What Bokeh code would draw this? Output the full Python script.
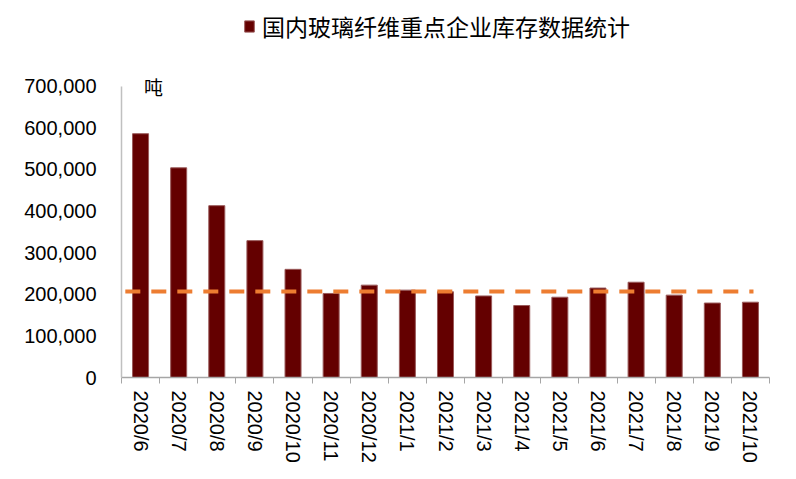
import math
from bokeh.plotting import figure
from bokeh.models import (Range1d, FixedTicker, NumeralTickFormatter, Legend, LegendItem,
                          Label, ColumnDataSource)
from bokeh.embed import file_html
from bokeh.resources import INLINE

# ---- data ----
categories = ["2020/6", "2020/7", "2020/8", "2020/9", "2020/10", "2020/11", "2020/12",
              "2021/1", "2021/2", "2021/3", "2021/4", "2021/5", "2021/6", "2021/7",
              "2021/8", "2021/9", "2021/10"]
inventory = [586000, 504000, 413000, 329000, 260000, 202000, 222000,
             210000, 206000, 196000, 173000, 193000, 215000, 229000,
             198000, 179000, 181000]
reference_level = 207000
y_ticks = [0, 100000, 200000, 300000, 400000, 500000, 600000, 700000]
series_name = "国内玻璃纤维重点企业库存数据统计"
unit_text = "吨"

# ---- styles / layout ----
BAR_COLOR = "#640000"
LINE_COLOR = "#ED7D31"
NUM_FONT = "Liberation Sans"
CJK_FONT = "Noto Sans CJK SC"
W, H = 780, 465
FRAME_LEFT, FRAME_RIGHT = 121, 769
FRAME_TOP = 6          # frame reaches near the top so legend/unit text are not clipped
AXIS_TOP_PX, AXIS_ZERO_PX = 86, 378   # pixel rows of the top tick and of zero
y_max = y_ticks[-1]
y_end = y_max * (AXIS_ZERO_PX - FRAME_TOP) / (AXIS_ZERO_PX - AXIS_TOP_PX)

n = len(categories)
xs = list(range(1, n + 1))
src = ColumnDataSource(dict(x=xs, y=inventory, cat=categories))

p = figure(width=W, height=H, output_backend="svg", toolbar_location=None,
           x_range=Range1d(0.5, n + 0.5), y_range=Range1d(0, y_end),
           min_border_left=FRAME_LEFT, min_border_right=W - FRAME_RIGHT,
           min_border_top=FRAME_TOP, min_border_bottom=H - AXIS_ZERO_PX)
p.outline_line_color = None
p.grid.visible = False
p.background_fill_color = "white"
p.border_fill_color = "white"

bars = p.vbar(x="x", top="y", width=0.42, source=src, fill_color=BAR_COLOR,
              line_color="#9a5a5a", line_width=1)

# reference dashed line (spans slightly inside the first and last category)
p.line(x=[xs[0] - 0.4, xs[-1] + 0.08], y=[reference_level, reference_level],
       line_color=LINE_COLOR, line_width=4, line_dash="15 11")

# x axis
xa = p.xaxis[0]
xa.ticker = FixedTicker(ticks=xs, minor_ticks=[x - 0.5 for x in xs] + [xs[-1] + 0.5])
xa.major_label_overrides = {x: c for x, c in zip(xs, categories)}
xa.major_label_orientation = -math.pi / 2
xa.major_tick_out = 0
xa.major_tick_in = 0
xa.minor_tick_out = 6
xa.minor_tick_in = 0
xa.minor_tick_line_color = "#a6a6a6"
xa.axis_line_color = "#a6a6a6"
xa.axis_line_width = 1.5
xa.major_label_standoff = 7
xa.major_label_text_font = NUM_FONT
xa.major_label_text_font_size = "20px"
xa.major_label_text_color = "#000000"

# y axis
ya = p.yaxis[0]
ya.ticker = FixedTicker(ticks=y_ticks)
ya.bounds = (0, y_max)
ya.formatter = NumeralTickFormatter(format="0,0")
ya.major_tick_out = 0
ya.major_tick_in = 0
ya.minor_tick_out = 0
ya.minor_tick_in = 0
ya.axis_line_color = "#c0c0c0"
ya.axis_line_width = 1.5
ya.major_label_standoff = 25
ya.major_label_text_font = NUM_FONT
ya.major_label_text_font_size = "20px"
ya.major_label_text_color = "#000000"

# unit label
p.add_layout(Label(x=xs[0] + 0.34, y=y_max, text=unit_text, text_font=CJK_FONT,
                   text_font_size="19px", text_align="center", text_baseline="middle",
                   text_color="#000000"))

# legend at the top
frame_h = AXIS_ZERO_PX - FRAME_TOP
legend = Legend(items=[LegendItem(label=series_name, renderers=[bars])],
                location=(243 - FRAME_LEFT, frame_h - 24 - 14), orientation="horizontal",
                background_fill_alpha=0, border_line_alpha=0, padding=0, margin=0,
                spacing=0, glyph_width=12, glyph_height=14, label_standoff=7,
                label_text_font=CJK_FONT, label_text_font_size="23px",
                label_text_color="#000000")
p.add_layout(legend, "center")

open("out.html", "w").write(file_html(p, INLINE))
